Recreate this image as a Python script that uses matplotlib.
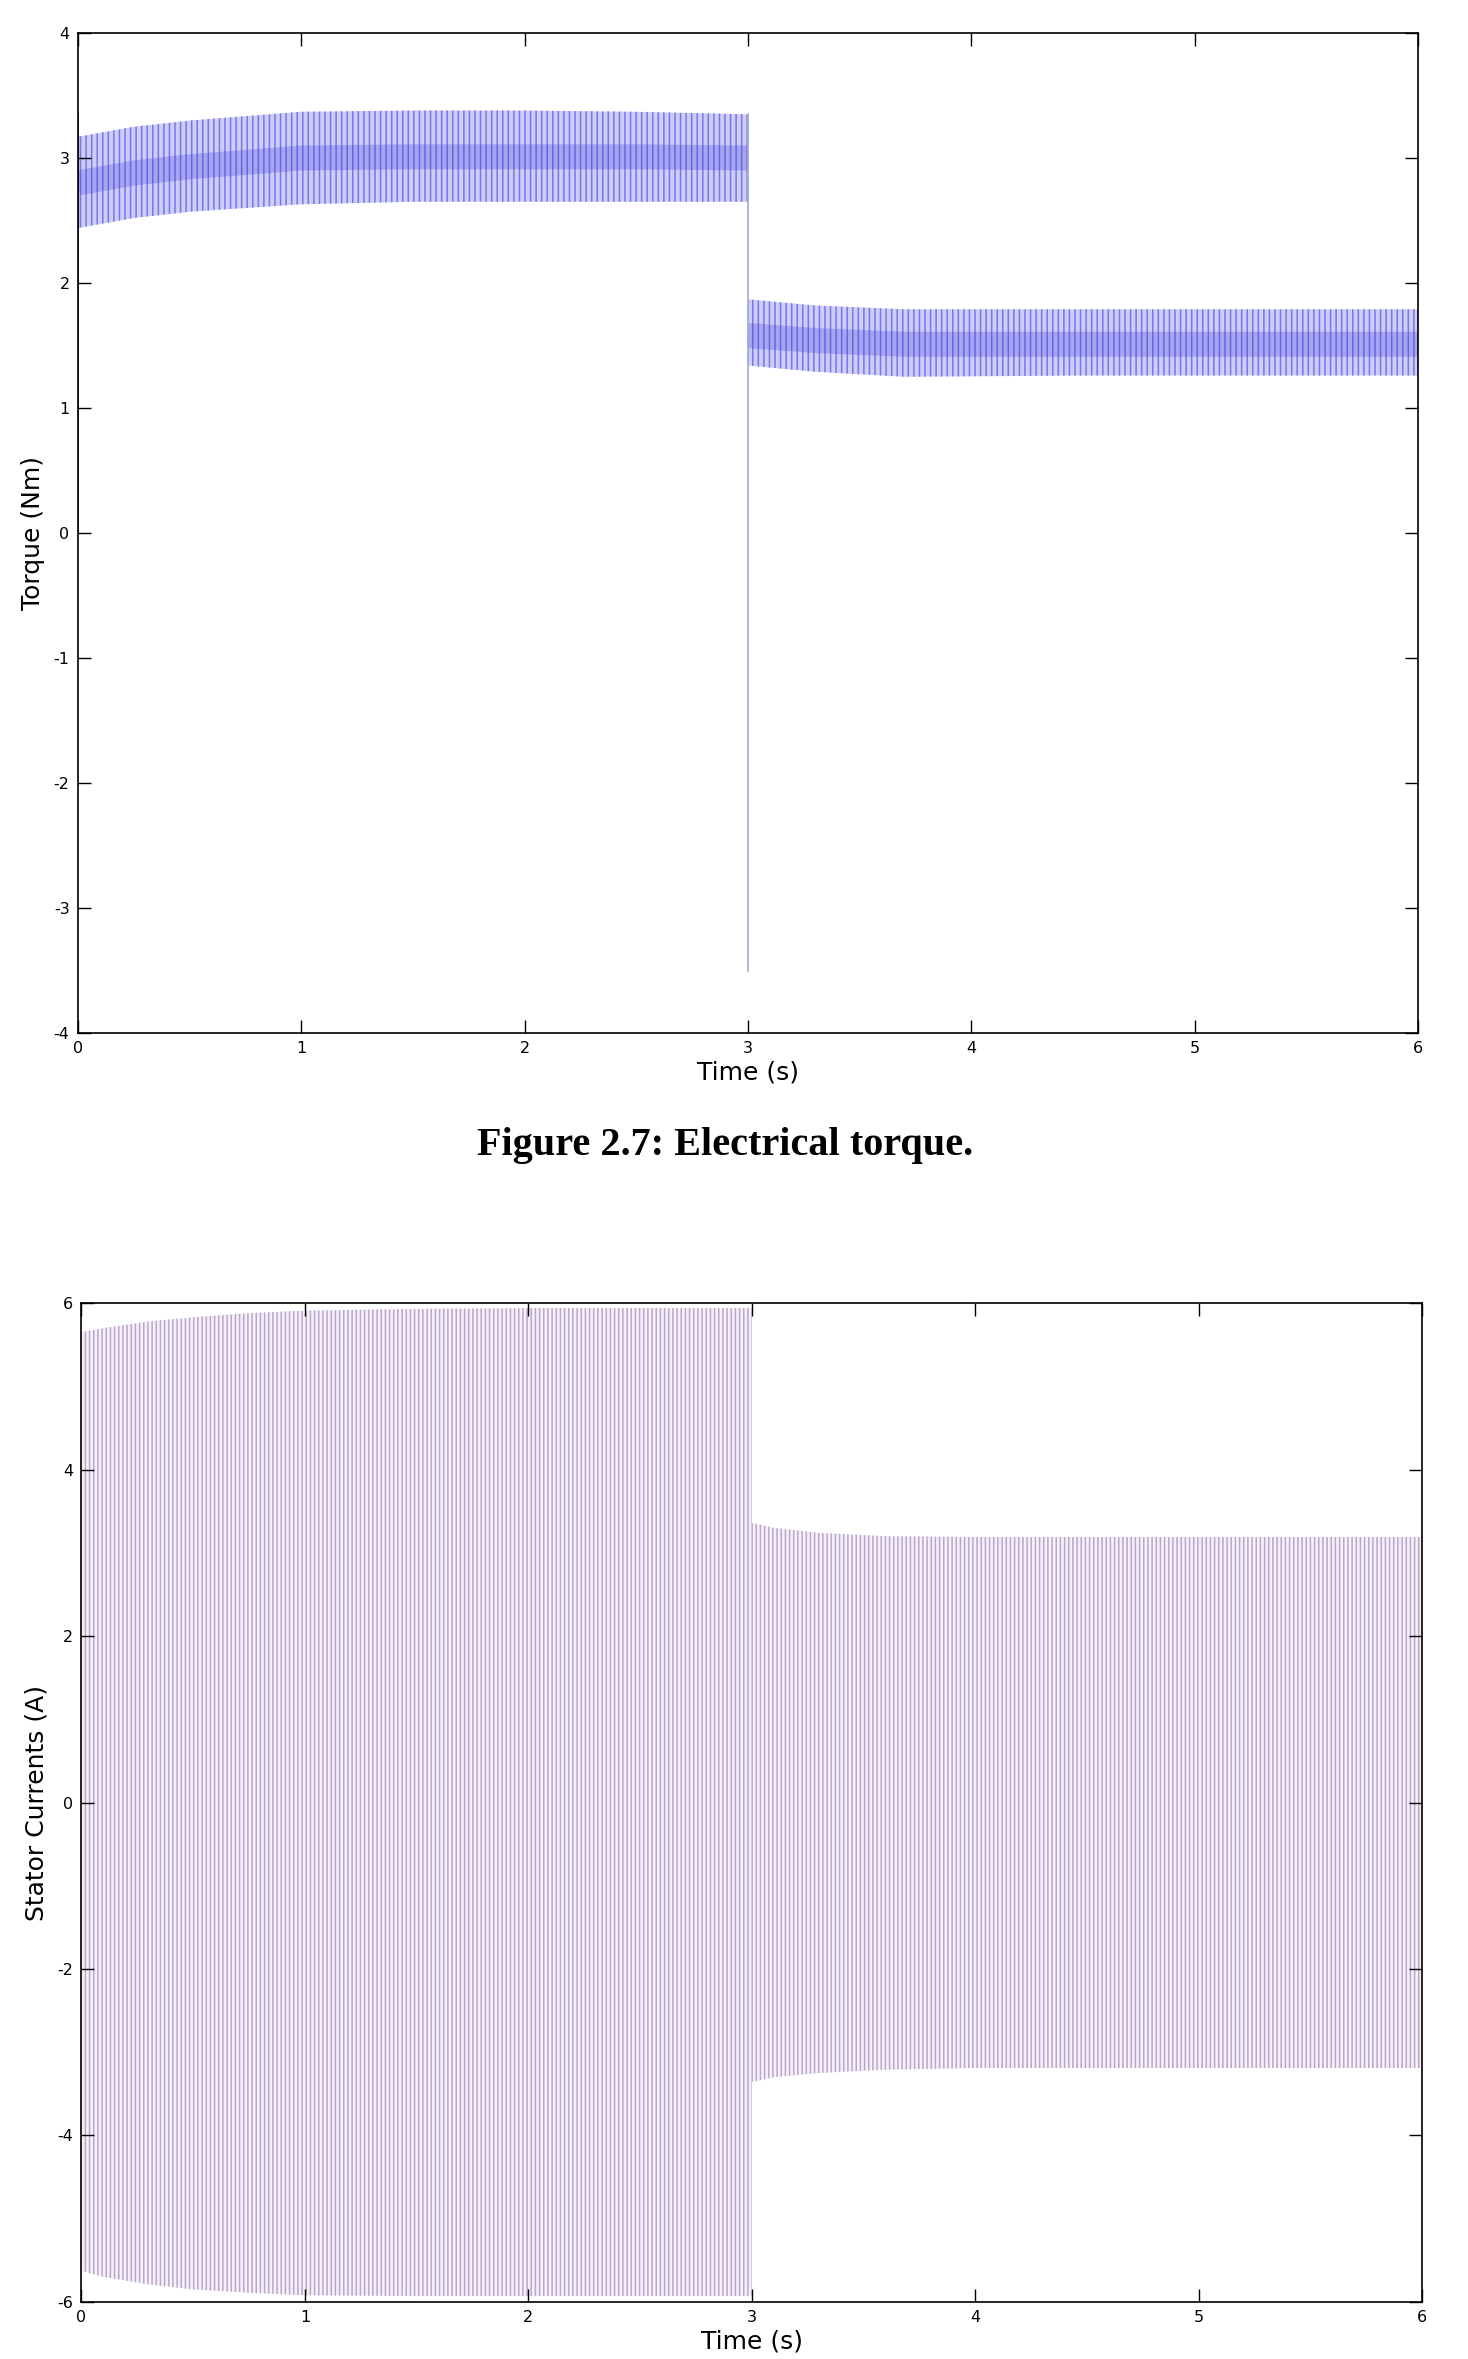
import matplotlib.pyplot as plt

# electrical torque (Nm): envelope of the ripple band
# segment 1: before the load step at t = 3 s, segment 2: after it
torque_t1 = [0.0, 0.25, 0.5, 1.0, 1.5, 2.0, 2.5, 3.0]
torque_hi1 = [3.17, 3.25, 3.30, 3.37, 3.38, 3.38, 3.37, 3.35]
torque_lo1 = [2.44, 2.52, 2.57, 2.63, 2.65, 2.65, 2.65, 2.65]
torque_mid1 = [2.80, 2.88, 2.93, 3.00, 3.01, 3.01, 3.01, 3.00]
torque_t2 = [3.0, 3.3, 3.7, 4.5, 5.5, 6.0]
torque_hi2 = [1.87, 1.82, 1.79, 1.79, 1.79, 1.79]
torque_lo2 = [1.34, 1.29, 1.25, 1.26, 1.26, 1.26]
torque_mid2 = [1.58, 1.54, 1.51, 1.51, 1.51, 1.51]
# the two transients (start-up and load step)
start_t = [0.0, 0.0]
start_val = [0.0, 3.35]
step_t = [3.0, 3.0]
step_val = [3.35, -3.5]

# stator currents (A): envelope of the three phases
cur_t1 = [0.0, 0.1, 0.3, 0.5, 0.75, 1.0, 1.5, 2.0, 2.5, 3.0]
cur_hi1 = [5.65, 5.70, 5.78, 5.83, 5.88, 5.91, 5.93, 5.94, 5.94, 5.94]
cur_lo1 = [-5.63, -5.70, -5.79, -5.85, -5.89, -5.92, -5.93, -5.93, -5.93, -5.93]
cur_t2 = [3.0, 3.1, 3.3, 3.6, 4.0, 5.0, 6.0]
cur_hi2 = [3.36, 3.30, 3.24, 3.20, 3.19, 3.19, 3.19]
cur_lo2 = [-3.36, -3.30, -3.25, -3.21, -3.19, -3.19, -3.19]

x_ticks = [0, 1, 2, 3, 4, 5, 6]
torque_ticks = [-4, -3, -2, -1, 0, 1, 2, 3, 4]
cur_ticks = [-6, -4, -2, 0, 2, 4, 6]

plt.rcParams['font.family'] = 'DejaVu Sans'
plt.rcParams['axes.unicode_minus'] = False
plt.rcParams['hatch.linewidth'] = 1.1

fig = plt.figure(figsize=(14.68, 23.59), dpi=100)
ax1 = fig.add_axes([0.0531, 0.5621, 0.9128, 0.4239])
ax2 = fig.add_axes([0.0555, 0.0242, 0.9132, 0.4234])


def style(ax, yticks):
    ax.set_xlim(0, 6)
    ax.set_ylim(yticks[0], yticks[-1])
    ax.set_xticks(x_ticks)
    ax.set_yticks(yticks)
    ax.tick_params(direction='in', top=True, right=True, length=9.5, width=1,
                   labelsize=11.5, pad=6)
    for s in ax.spines.values():
        s.set_linewidth(1.2)
    ax.set_xlabel('Time (s)', fontsize=18, labelpad=3)


# torque ripple band
for t, hi, lo, mid in [(torque_t1, torque_hi1, torque_lo1, torque_mid1),
                       (torque_t2, torque_hi2, torque_lo2, torque_mid2)]:
    ax1.fill_between(t, lo, hi, facecolor='#cdcdf7', edgecolor='#7777ea',
                     hatch='|||', linewidth=0)
    ax1.plot(t, mid, color='#3434dc', linewidth=18, alpha=0.25,
             solid_capstyle='butt')
ax1.plot(start_t, start_val, color='#1a1a80', linewidth=1.2)
ax1.plot(step_t, step_val, color='#a0a8d0', linewidth=1.2)
style(ax1, torque_ticks)
ax1.set_ylabel('Torque (Nm)', fontsize=18, labelpad=6)

# stator current band (three phases overlapping)
for t, hi, lo in [(cur_t1, cur_hi1, cur_lo1), (cur_t2, cur_hi2, cur_lo2)]:
    ax2.fill_between(t, lo, hi, facecolor='#f7f1f6', edgecolor='#b7a6cf',
                     hatch='||||', linewidth=0)
style(ax2, cur_ticks)
ax2.set_ylabel('Stator Currents (A)', fontsize=18, labelpad=6)

fig.text(0.494, 0.5146, 'Figure 2.7: Electrical torque.', ha='center', va='center',
         fontsize=29, fontweight='bold', family='Liberation Serif')

fig.savefig('out.png', dpi=100)
